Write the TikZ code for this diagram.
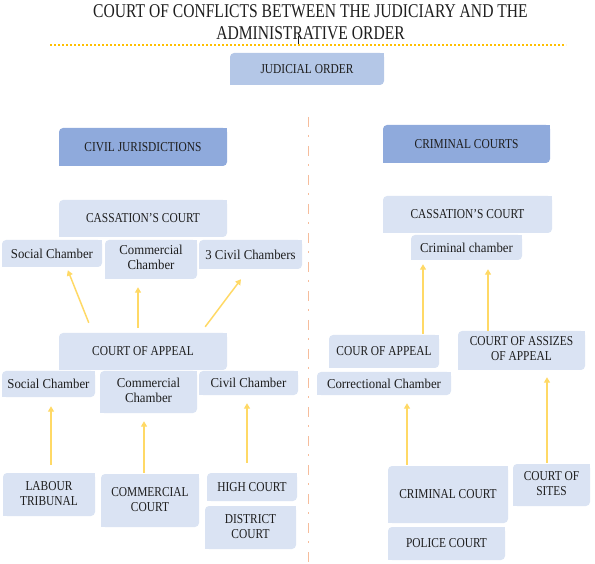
\documentclass[tikz,border=0pt]{standalone}
\usepackage{fontspec}
\setmainfont{Liberation Serif}
\newfontfamily\capsfont{Liberation Serif}[FakeStretch = 0.84]
\newfontfamily\chamberfont{Liberation Serif}[FakeStretch = 0.94]
\newfontfamily\titlefont{Liberation Serif}[FakeStretch = 0.80]
\usetikzlibrary{arrows.meta}

\definecolor{BoxLight}{HTML}{DAE3F3}
\definecolor{BoxMid}{HTML}{B4C7E7}
\definecolor{BoxDark}{HTML}{8FAADC}
\definecolor{ArrowYellow}{HTML}{FFD966}
\definecolor{LineOrange}{HTML}{FFC000}
\definecolor{LineSalmon}{HTML}{F6BD9C}
\definecolor{TextGray}{HTML}{1E1E1E}

\tikzset{%
	every node/.style = {font = \capsfont\fontsize{13.6}{15}\selectfont, text = TextGray},
	court/.style = {rectangle, fill = #1, rounded corners = 4pt, inner sep = 0pt, align = center,
		append after command = {\pgfextra{%
			\fill[#1, sharp corners] (\tikzlastnode.north east) rectangle ++(-4pt,-4pt);
			\fill[#1, sharp corners] (\tikzlastnode.south west) rectangle ++(4pt,4pt);}}},
	chamber/.style = {court = BoxLight, font = \chamberfont\fontsize{13.6}{15}\selectfont},
	dims/.style 2 args = {minimum width = #1, minimum height = #2},
	appealarrow/.style = {-{Triangle[length = 5.5pt, width = 6pt]}, line width = 1.5pt, draw = ArrowYellow},
	headline/.style = {LineOrange, line width = 2pt, dash pattern = on 2pt off 2pt},
	divider/.style = {LineSalmon, line width = 1.6pt, dash pattern = on 10pt off 8pt on 2pt off 9pt}
}

\begin{document}
\begin{tikzpicture}[x = 1pt, y = -1pt]
	\useasboundingbox (0, 0) rectangle (595, 564);

	\node[font = \titlefont\fontsize{19.5}{22}\selectfont]	(title)	at (310.5, 24)	{\begin{tabular}{c}COURT OF CONFLICTS BETWEEN THE JUDICIARY AND THE\\ADMINISTRATIVE ORDER\end{tabular}};
	\draw[TextGray, line width = 0.6pt] (298, 36) -- (298, 46);
	\draw[headline] (50, 45.5) -- (566, 45.5);
	\draw[divider] (308.5, 117) -- (308.5, 564);

	\node[court = BoxMid, dims = {154pt}{32pt}]		(judicial)		at (307, 69)		{JUDICIAL ORDER};
	\node[court = BoxDark, dims = {168pt}{38pt}]	(civil)			at (143, 147)		{CIVIL JURISDICTIONS};
	\node[court = BoxDark, dims = {167pt}{38pt}]	(criminal)		at (466.5, 144)		{CRIMINAL COURTS};

	\node[court = BoxLight, dims = {168pt}{37pt}]	(cassciv)		at (143, 218.5)		{CASSATION’S COURT};
	\node[chamber, dims = {100pt}{27pt}]			(socialA)		at (52, 253.5)		{Social Chamber};
	\node[chamber, dims = {92pt}{39pt}]				(commA)			at (151, 259.5)		{\begin{tabular}{c}Commercial\\Chamber\end{tabular}};
	\node[chamber, dims = {103pt}{29pt}]			(civilsA)		at (250.5, 254.5)	{3 Civil Chambers};
	\node[court = BoxLight, dims = {168pt}{37pt}]	(appealciv)		at (143, 351.5)		{COURT OF APPEAL};
	\node[chamber, dims = {93pt}{26pt}]				(socialB)		at (48.5, 384)		{Social Chamber};
	\node[chamber, dims = {97pt}{42pt}]				(commB)			at (148.5, 392)		{\begin{tabular}{c}Commercial\\Chamber\end{tabular}};
	\node[chamber, dims = {99pt}{24pt}]				(civilB)		at (248.5, 383)		{Civil Chamber};
	\node[court = BoxLight, dims = {92pt}{43pt}]	(labour)		at (49, 494.5)		{\begin{tabular}{c}LABOUR\\TRIBUNAL\end{tabular}};
	\node[court = BoxLight, dims = {98pt}{53pt}]	(commcourt)		at (150, 500.5)		{\begin{tabular}{c}COMMERCIAL\\COURT\end{tabular}};
	\node[court = BoxLight, dims = {90pt}{28pt}]	(high)			at (252, 487)		{HIGH COURT};
	\node[court = BoxLight, dims = {91pt}{43pt}]	(district)		at (250.5, 527.5)	{\begin{tabular}{c}DISTRICT\\COURT\end{tabular}};

	\node[court = BoxLight, dims = {169pt}{37pt}]	(casscrim)		at (467.5, 214.5)	{CASSATION’S COURT};
	\node[chamber, dims = {111pt}{25pt}]			(crimchamber)	at (466.5, 247.5)	{Criminal chamber};
	\node[court = BoxLight, dims = {110pt}{33pt}]	(courappeal)	at (384, 351.5)		{COUR OF APPEAL};
	\node[court = BoxLight, dims = {127pt}{39pt}]	(assizes)		at (521.5, 350.5)	{\begin{tabular}{c}COURT OF ASSIZES\\OF APPEAL\end{tabular}};
	\node[chamber, dims = {134pt}{23pt}]			(correctional)	at (384, 383.5)		{Correctional Chamber};
	\node[court = BoxLight, dims = {120pt}{57pt}]	(crimcourt)		at (448, 494.5)		{CRIMINAL COURT};
	\node[court = BoxLight, dims = {77pt}{42pt}]	(sites)			at (551.5, 485)		{\begin{tabular}{c}COURT OF\\SITES\end{tabular}};
	\node[court = BoxLight, dims = {117pt}{33pt}]	(police)		at (446.5, 543.5)	{POLICE COURT};

	\draw[appealarrow] ([xshift = 30pt, yshift = 10pt]appealciv.north west) -- ([xshift = 66pt, yshift = -3pt]socialA.south west);
	\draw[appealarrow] ([xshift = -5pt, yshift = 5pt]appealciv.north) -- ([xshift = -13pt, yshift = -8pt]commA.south);
	\draw[appealarrow] ([xshift = -22pt, yshift = 6pt]appealciv.north east) -- ([xshift = -9.5pt, yshift = -10pt]civilsA.south);
	\draw[appealarrow] ([xshift = 2pt, yshift = 8pt]labour.north) -- ([xshift = 2.5pt, yshift = -9pt]socialB.south);
	\draw[appealarrow] ([xshift = -6pt, yshift = 1pt]commcourt.north) -- ([xshift = -4.5pt, yshift = -8pt]commB.south);
	\draw[appealarrow] ([xshift = -5pt, yshift = 10pt]high.north) -- ([xshift = -1.5pt, yshift = -8pt]civilB.south);
	\draw[appealarrow] ([xshift = 39pt, yshift = 1pt]courappeal.north) -- ([xshift = -43.5pt, yshift = -4pt]crimchamber.south);
	\draw[appealarrow] ([xshift = -33.5pt]assizes.north) -- ([xshift = 21.5pt, yshift = -9pt]crimchamber.south);
	\draw[appealarrow] ([xshift = -41pt, yshift = 1pt]crimcourt.north) -- ([xshift = 23pt, yshift = -8pt]correctional.south);
	\draw[appealarrow] ([xshift = -4.5pt, yshift = 1pt]sites.north) -- ([xshift = 25.5pt, yshift = -7pt]assizes.south);
\end{tikzpicture}
\end{document}
